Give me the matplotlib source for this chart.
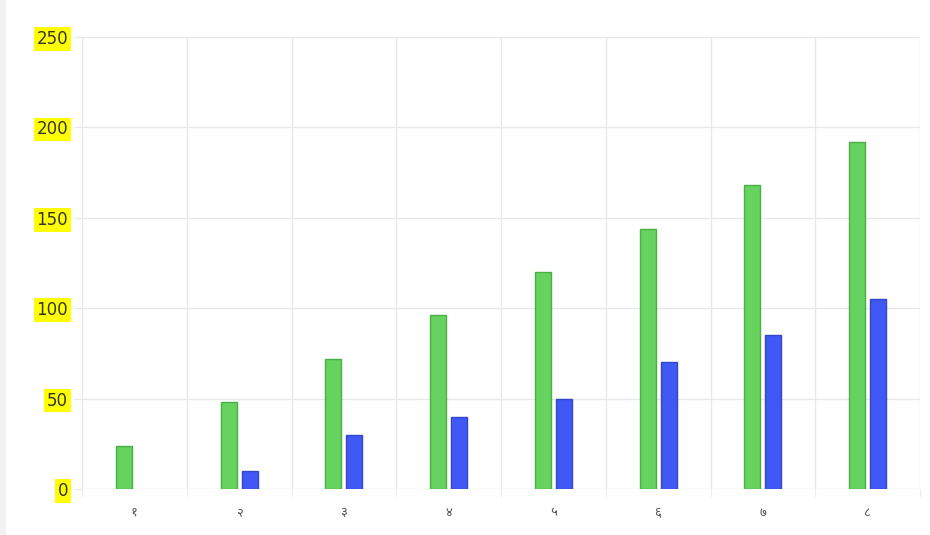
import numpy as np
import matplotlib.pyplot as plt
from matplotlib.patches import Rectangle

labels = ['१', '२', '३', '४', '५', '६', '७', '८']
green_vals = [24, 48, 72, 96, 120, 144, 168, 192]
blue_vals = [0, 10, 30, 40, 50, 70, 85, 105]
y_ticks = [0, 50, 100, 150, 200, 250]

fig = plt.figure(figsize=(9.3, 5.35), dpi=100)
fig.patches.append(Rectangle((0, 0), 5 / 930, 1, transform=fig.transFigure,
                             color='#f2f2f2', zorder=0))
ax = fig.add_axes([82 / 930, 46 / 535, 838 / 930, 452 / 535])

x = np.arange(len(labels))
w = 0.153
ax.bar(x - 0.10, green_vals, w, color='#66d35f', edgecolor='#4caf45',
       linewidth=[0 if v == 0 else 1 for v in green_vals], zorder=3)
ax.bar(x + 0.10, blue_vals, w, color='#4059f5', edgecolor='#3347cc',
       linewidth=[0 if v == 0 else 1 for v in blue_vals], zorder=3)

ax.set_xlim(-0.5, len(labels) - 0.5)
ax.set_ylim(0, 250)
ax.set_yticks(y_ticks)
ax.set_xticks(x)
ax.set_xticklabels(labels, fontsize=9.5, color='#555555',
                   family=['Noto Sans', 'DejaVu Sans'])
ax.set_xticks(np.arange(len(labels) + 1) - 0.5, minor=True)

ax.tick_params(axis='x', which='major', length=0, pad=12)
ax.tick_params(axis='x', which='minor', length=6, color='#e8e8e8')
ax.tick_params(axis='y', length=6, color='#e8e8e8', labelsize=12,
               labelcolor='#333333', pad=4)

ax.grid(True, axis='y', color='#e8e8e8', linewidth=1, zorder=0)
ax.grid(True, axis='x', which='minor', color='#e8e8e8', linewidth=1, zorder=0)
for s in ax.spines.values():
    s.set_visible(False)

for lab in ax.get_yticklabels():
    lab.set_bbox(dict(facecolor='#ffff00', edgecolor='none', pad=2))

fig.savefig('out.png')
